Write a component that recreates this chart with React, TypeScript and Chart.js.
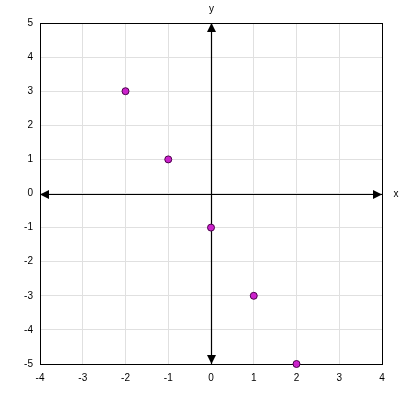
import React, { useEffect, useRef } from "react";
import { Chart, registerables } from "chart.js";

Chart.register(...registerables);

const xValues = [-2, -1, 0, 1, 2];
const yValues = [3, 1, -1, -3, -5];
const xRange = [-4, 4];
const yRange = [-5, 5];
const axisNames = ["x", "y"];

const FONT = "'Liberation Sans', Arial, sans-serif";

function arrow(ctx: CanvasRenderingContext2D, x: number, y: number, dx: number, dy: number) {
  const L = 9, W = 4.5;
  const px = -dy, py = dx;
  ctx.beginPath();
  ctx.moveTo(x, y);
  ctx.lineTo(x - dx * L + px * W, y - dy * L + py * W);
  ctx.lineTo(x - dx * L - px * W, y - dy * L - py * W);
  ctx.closePath();
  ctx.fill();
}

const axesPlugin = {
  id: "axesPlugin",
  beforeDatasetsDraw(chart: any) {
    const { ctx, chartArea, scales } = chart;
    const xs = scales.x, ys = scales.y;
    ctx.save();
    ctx.strokeStyle = "#000";
    ctx.lineWidth = 1;
    ctx.strokeRect(chartArea.left + 0.5, chartArea.top + 0.5, chartArea.right - chartArea.left, chartArea.bottom - chartArea.top);
    const x0 = Math.round(xs.getPixelForValue(0)) + 0.5;
    const y0 = Math.round(ys.getPixelForValue(0)) + 0.5;
    const xl = xs.getPixelForValue(xRange[0]);
    const xr = xs.getPixelForValue(xRange[1]);
    const yt = ys.getPixelForValue(yRange[1]);
    const yb = ys.getPixelForValue(yRange[0]);
    ctx.lineWidth = 1.2;
    ctx.beginPath();
    ctx.moveTo(xl, y0);
    ctx.lineTo(xr, y0);
    ctx.moveTo(x0, yt);
    ctx.lineTo(x0, yb);
    ctx.stroke();
    ctx.fillStyle = "#000";
    arrow(ctx, xr, y0, 1, 0);
    arrow(ctx, xl, y0, -1, 0);
    arrow(ctx, x0, yt, 0, -1);
    arrow(ctx, x0, yb, 0, 1);
    ctx.font = `10px ${FONT}`;
    ctx.textAlign = "center";
    ctx.textBaseline = "middle";
    ctx.fillText(axisNames[0], xr + 14, y0);
    ctx.fillText(axisNames[1], x0, yt - 14);
    ctx.restore();
  },
};

export default function App() {
  const ref = useRef<HTMLCanvasElement>(null);
  useEffect(() => {
    document.body.style.margin = "0";
    const chart = new Chart(ref.current!, {
      type: "scatter",
      data: {
        datasets: [
          {
            data: xValues.map((x, i) => ({ x, y: yValues[i] })),
            backgroundColor: "#cc22cc",
            borderColor: "#4a004a",
            borderWidth: 1,
            pointRadius: 3.5,
            pointHoverRadius: 3.5,
            clip: false,
          } as any,
        ],
      },
      options: {
        animation: false,
        responsive: false,
        events: [],
        layout: { padding: { left: 0, top: 23, right: 38, bottom: 0 } },
        plugins: { legend: { display: false }, tooltip: { enabled: false } },
        scales: {
          x: {
            type: "linear",
            min: xRange[0],
            max: xRange[1],
            afterFit(scale: any) { scale.height = 37; },
            grid: { color: "#e0e0e0", drawTicks: false },
            border: { display: false },
            ticks: { stepSize: 1, padding: 8, color: "#000", font: { family: FONT, size: 10 } },
          },
          y: {
            type: "linear",
            min: yRange[0],
            max: yRange[1],
            afterFit(scale: any) { scale.width = 40; },
            grid: { color: "#e0e0e0", drawTicks: false },
            border: { display: false },
            ticks: { stepSize: 1, padding: 7, color: "#000", font: { family: FONT, size: 10 } },
          },
        },
      },
      plugins: [axesPlugin],
    });
    return () => chart.destroy();
  }, []);
  return (
    <div style={{ position: "absolute", left: 0, top: 0, width: 420, height: 401, background: "#fff" }}>
      <canvas ref={ref} width={420} height={401} />
    </div>
  );
}
